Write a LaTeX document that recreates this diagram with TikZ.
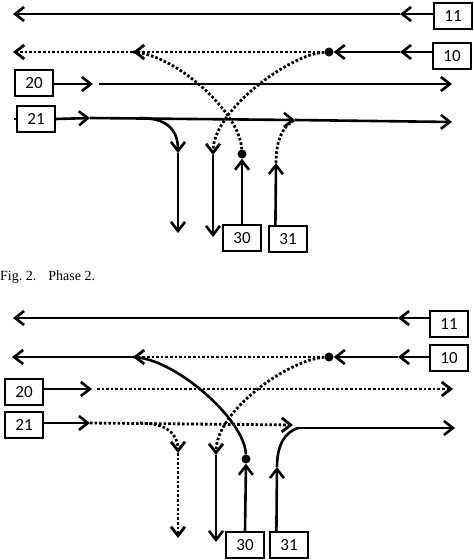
\documentclass[tikz,border=0pt]{standalone}
\usepackage{fontspec}
\setmainfont{Liberation Serif}
\newfontfamily\boxfont{Carlito}
\usetikzlibrary{arrows.meta}

\begin{document}
\begin{tikzpicture}[
    x=1pt, y=-1pt,
    >={Straight Barb[length=9pt,width=14pt]},
    lane/.style={draw, line width=1.2pt, minimum width=38pt, minimum height=26pt, inner sep=0pt,
                 font=\boxfont\fontsize{17}{17}\selectfont},
    junction/.style={circle, fill, inner sep=0pt, minimum size=9pt},
    track/.style={line width=2.6pt},
    arrow/.style={track, ->},
    dotline/.style={line width=2.8pt, dash pattern=on 2.6pt off 2pt},
    dotarrow/.style={dotline, ->},
]
\useasboundingbox (0,0) rectangle (474,560);

% ── Phase 1 (top) ──
\node[lane] (t11) at (453,16) {11};
\node[lane] (t10) at (452,56) {10};
\node[lane] (t20) at (34,83) {20};
\node[lane] (t21) at (36,119) {21};
\node[lane] (t30) at (242,238) {30};
\node[lane] (t31) at (288,239) {31};
\node[junction] (tj10) at (329,52) {};
\node[junction] (tj30) at (242,154) {};

\coordinate (t11m) at (400,14);
\coordinate (t11e) at (13,14);
\coordinate (t10m) at (400,52);
\coordinate (t10l) at (133,52);
\coordinate (t10e) at (13,52);
\coordinate (t20m) at (93,84);
\coordinate (t20s) at (99,84);
\coordinate (t20e) at (452,84);
\coordinate (t21m) at (90,118);
\coordinate (t21k) at (140,118);
\coordinate (t21j) at (295,120);
\coordinate (t21e) at (452,122);
\coordinate (tl1) at (178,153);
\coordinate (tl1e) at (178,233);
\coordinate (tl2) at (213,155);
\coordinate (tl2e) at (213,237);
\coordinate (tr1) at (276,163);

% straight lanes
\draw[arrow] ([yshift=2pt]t11.west) -- (t11m);
\draw[arrow] (t11m) -- (t11e);
\draw[arrow] ([yshift=4pt]t10.west) -- (t10m);
\draw[arrow] (t10m) -- (tj10.east);
\draw[dotarrow] (tj10.west) -- (t10l);
\draw[dotarrow] (t10l) -- (t10e);
\draw[arrow] ([yshift=-1pt]t20.east) -- (t20m);
\draw[arrow] (t20s) -- (t20e);
\draw[track] (t21.west) -- ++(-2,0);
\draw[arrow] (t21.east) -- (t21m);
\draw[arrow] (t21m) -- (t21j);
\draw[arrow] (t21j) -- (t21e);

% turns
\draw[arrow] (t21k) .. controls (165,118) and (178,128) .. (tl1);
\draw[arrow] (tl1) -- (tl1e);
\draw[dotarrow] (tj10) .. controls (290,54) and (213,110) .. (tl2);
\draw[arrow] (tl2) -- (tl2e);
\draw[dotline] (t10l) .. controls (175,54) and (240,112) .. (tj30);
\draw[arrow] (t30.north) -- (tj30.south);
\draw[arrow] ([xshift=7pt]t31.north west) -- (tr1);
\draw[dotline] (tr1) .. controls (276,138) and (284,125) .. (t21j);

% ── Caption ──
\node[anchor=base west, inner sep=0pt, font=\fontsize{14}{16}\selectfont] (cap) at (0,280)
    {Fig.~2.\hspace{12pt}Phase 2.};

% ── Phase 2 (bottom) ──
\node[lane] (b11) at (449,324) {11};
\node[lane] (b10) at (449,358) {10};
\node[lane] (b20) at (24,392) {20};
\node[lane] (b21) at (24,425) {21};
\node[lane] (b30) at (245,545) {30};
\node[lane] (b31) at (289,545) {31};
\node[junction] (bj10) at (329,357) {};
\node[junction] (bj30) at (246,459) {};

\coordinate (b11m) at (398,318);
\coordinate (b11e) at (13,318);
\coordinate (b10m) at (398,357);
\coordinate (b10l) at (133,357);
\coordinate (b10e) at (12,357);
\coordinate (b20m) at (92,389);
\coordinate (b20s) at (97,389);
\coordinate (b20e) at (453,389);
\coordinate (b21m) at (90,423);
\coordinate (b21k) at (140,423);
\coordinate (b21j) at (293,425);
\coordinate (b21s) at (298,428);
\coordinate (b21e) at (455,428);
\coordinate (bl1) at (178,453);
\coordinate (bl1e) at (178,538);
\coordinate (bl2) at (216,455);
\coordinate (bl2e) at (216,542);
\coordinate (br1) at (277,467);

% straight lanes
\draw[arrow] ([yshift=6pt]b11.west) -- (b11m);
\draw[arrow] (b11m) -- (b11e);
\draw[arrow] ([yshift=1pt]b10.west) -- (b10m);
\draw[arrow] (b10m) -- (bj10.east);
\draw[dotarrow] (bj10.west) -- (b10l);
\draw[arrow] (b10l) -- (b10e);
\draw[arrow] ([yshift=3pt]b20.east) -- (b20m);
\draw[dotarrow] (b20s) -- (b20e);
\draw[arrow] ([yshift=2pt]b21.east) -- (b21m);
\draw[dotarrow] (b21m) -- (b21j);
\draw[arrow] (b21s) -- (b21e);

% turns
\draw[dotarrow] (b21k) .. controls (165,423) and (178,433) .. (bl1);
\draw[dotarrow] (bl1) -- (bl1e);
\draw[dotarrow] (bj10) .. controls (290,359) and (216,410) .. (bl2);
\draw[arrow] (bl2) -- (bl2e);
\draw[track] (bj30) .. controls (245,420) and (175,358) .. (b10l);
\draw[arrow] (b30.north) -- (bj30.south);
\draw[arrow] ([xshift=7pt]b31.north west) -- (br1);
\draw[track] (br1) .. controls (277,445) and (285,432) .. (b21s);

\end{tikzpicture}
\end{document}
